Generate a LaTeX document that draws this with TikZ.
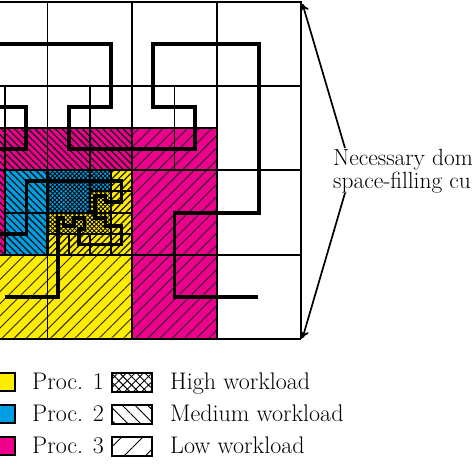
\documentclass[tikz,border=0pt]{standalone}
\usetikzlibrary{patterns.meta,arrows.meta}
\definecolor{pY}{RGB}{255,237,0}
\definecolor{pB}{RGB}{0,159,227}
\definecolor{pM}{RGB}{236,0,140}
\tikzset{
 low/.style={pattern={Lines[angle=45,distance=8.6pt,line width=0.9pt]},pattern color=black!85},
 lowd/.style={pattern={Lines[angle=45,distance=4.8pt,line width=1.3pt]},pattern color=black!90},
 med/.style={pattern={Lines[angle=-45,distance=4.8pt,line width=1.3pt]},pattern color=black!90},
 high/.style={pattern={Lines[angle=45,distance=3.1pt,line width=0.9pt]},pattern color=black},
 highb/.style={pattern={Lines[angle=-45,distance=3.1pt,line width=0.9pt]},pattern color=black},
 thin grid/.style={line width=1.8pt,black},
 cell line/.style={line width=2.6pt,black},
 curve/.style={line width=3.4pt,black,line join=miter,line cap=butt},
 arr/.style={line width=1.7pt,-{Computer Modern Rightarrow[length=7pt,width=9pt]}},
 lab/.style={anchor=base west,inner sep=0pt,font=\fontsize{24}{28}\selectfont},
 labs/.style={anchor=base west,inner sep=0pt,font=\fontsize{23.4}{26}\selectfont},
 swatch/.style={draw,line width=2pt},
}
\begin{document}
\begin{tikzpicture}[x=1pt,y=-1pt]
\useasboundingbox (0,0) rectangle (474,474);
\clip (0,0) rectangle (474,474);
% coloured cells
\def\cell#1#2#3#4#5#6{\fill[#5] (#1,#2) rectangle (#3,#4); \fill[#6] (#1,#2) rectangle (#3,#4);}
\def\hcell#1#2#3#4#5{\fill[#5] (#1,#2) rectangle (#3,#4); \fill[high] (#1,#2) rectangle (#3,#4); \fill[highb] (#1,#2) rectangle (#3,#4);}
\cell{-5}{128}{132}{170}{pM}{med}
\cell{132}{128}{217}{170}{pM}{low}
\cell{-5}{170}{5}{255}{pM}{med}
\cell{5}{170}{47.5}{255}{pB}{med}
\hcell{47.5}{170}{111}{191}{pB}
\hcell{47.5}{170}{90}{213}{pB}
\cell{111}{170}{132}{213}{pY}{lowd}
\hcell{90}{191}{111}{213}{pY}
\hcell{47.5}{213}{111}{234}{pY}
\cell{111}{213}{132}{234}{pY}{lowd}
\cell{47.5}{234}{132}{255}{pY}{lowd}
\cell{-5}{255}{132}{339}{pY}{low}
\cell{132}{170}{217}{339}{pM}{low}
% fine lines
\foreach \x in {5,90,174.5} \draw[thin grid] (\x,86) -- (\x,170);
\foreach \y in {86,170,255} \draw[thin grid] (0,\y) -- (301,\y);
\foreach \x in {47.5,132,217} \draw[thin grid] (\x,2) -- (\x,339);
\draw[thin grid] (5,170) -- (5,255) (5,213) -- (47.5,213);
\draw[thin grid] (47.5,181) -- (111,181) (90,170) -- (90,213) (47.5,213) -- (132,213) (47.5,234) -- (132,234)
 (111,170) -- (111,255) (90,191) -- (132,191) (68.6,234) -- (68.6,255) (90,234) -- (90,255);
\draw[cell line] (0,128) -- (217,128) (217,128) -- (217,339) (0,339) -- (301,339) (132,128) -- (132,339) (0,170) -- (217,170) (0,255) -- (217,255) (5,170) -- (5,255) (47.5,170) -- (47.5,255);
\draw[line width=2pt] (0,2) -- (301,2) -- (301,339);
% curve
\draw[curve] (258,297) -- (174.5,297) -- (174.5,213) -- (259,213) -- (259,44) -- (153,44) -- (153,107) -- (195,107) -- (195,149) -- (69,149) -- (69,107) -- (111,107) -- (111,44) -- (0,44);
\draw[curve] (0,107) -- (26,107) -- (26,149) -- (0,149);
\draw[curve] (0,234) -- (26.5,234) -- (26.5,181) -- (121.7,181) -- (121.7,202) -- (105.6,202) -- (105.6,196) -- (95,196) -- (95,218) -- (105.6,218) -- (105.6,226) -- (121.7,226) -- (121.7,244.6) -- (79,244.6) -- (79,229) -- (84.5,229) -- (84.5,218) -- (74,218) -- (74,226) -- (63.4,226) -- (63.4,218) -- (58,218) -- (58,297) -- (5,297);
% arrows
\coordinate (tA) at (345,148);
\coordinate (tB) at (345,193);
\coordinate (gT) at (302.5,4);
\coordinate (gB) at (302.5,338);
\draw[arr] (tA) -- (gT);
\draw[arr] (tB) -- (gB);
\node[labs] (nec) at (333,165.5) {Necessary dom};
\node[labs] (spc) at (333,188) {space-filling cu};
% legend
\draw[swatch,fill=pY] (-5,373) rectangle (15,391);
\draw[swatch,fill=pB] (-5,405) rectangle (15,423);
\draw[swatch,fill=pM] (-5,437) rectangle (15,455);
\node[lab] (p1) at (32,389.5) {Proc. 1};
\node[lab] (p2) at (32,421.5) {Proc. 2};
\node[lab] (p3) at (32,453) {Proc. 3};
\draw[swatch,pattern={Lines[angle=45,distance=6pt,line width=0.9pt]}] (112,372.5) rectangle (152,391.5);
\fill[pattern={Lines[angle=-45,distance=6pt,line width=0.9pt]}] (112,372.5) rectangle (152,391.5);
\draw[swatch,pattern={Lines[angle=-45,distance=9pt,line width=0.9pt]}] (112,404.5) rectangle (152,423.5);
\draw[swatch,pattern={Lines[angle=45,distance=15pt,line width=0.9pt]}] (112,436.5) rectangle (152,455.5);
\node[lab] (h) at (170,389.5) {High workload};
\node[lab] (m) at (170,421.5) {Medium workload};
\node[lab] (l) at (170,453) {Low workload};
\end{tikzpicture}
\end{document}
